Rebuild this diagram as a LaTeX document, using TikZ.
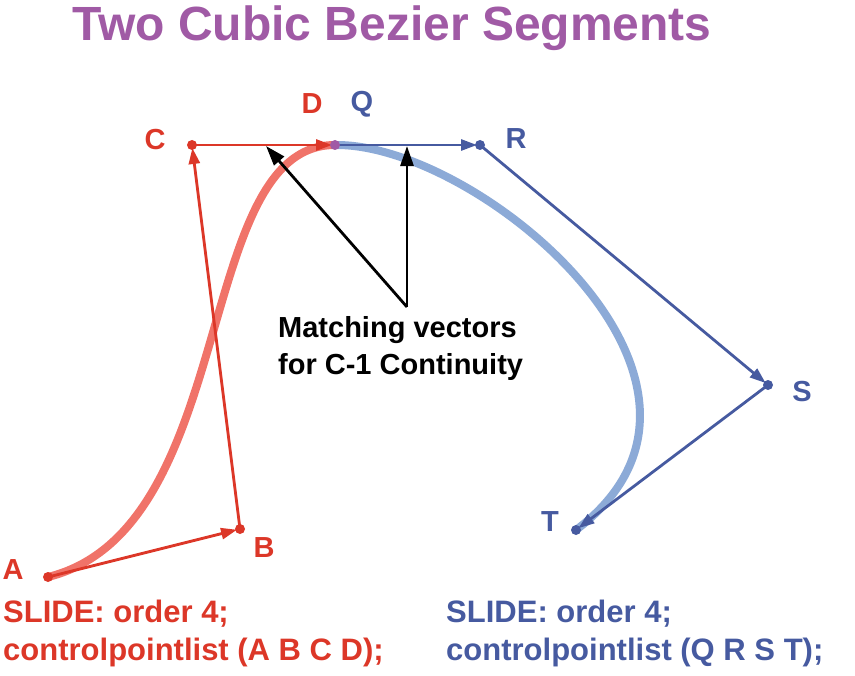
\documentclass[tikz,border=0pt]{standalone}
\usepackage{fontspec}
\setmainfont{Liberation Sans}
\usetikzlibrary{arrows.meta}
\definecolor{rd}{RGB}{220,55,40}
\definecolor{lrd}{RGB}{240,115,105}
\definecolor{bl}{RGB}{70,90,160}
\definecolor{lbl}{RGB}{140,170,215}
\definecolor{pu}{RGB}{160,90,165}
\tikzset{
 pt/.style={circle,fill=#1,inner sep=0pt,minimum size=10bp},
 vec/.style={draw=#1,line width=2.8bp,-{Triangle[length=16bp,width=11bp]},shorten >=3bp},
 lab/.style={font=\bfseries\fontsize{29bp}{37bp}\selectfont,text=#1},
 bot/.style={font=\bfseries\fontsize{31bp}{38bp}\selectfont,text=#1,align=left,anchor=north west,inner sep=0pt},
}
\begin{document}
\begin{tikzpicture}[x=1bp,y=-1bp]
\useasboundingbox (0,0) rectangle (855,676);
\node[font=\bfseries\fontsize{48bp}{52bp}\selectfont,text=pu] (title) at (392,28) {Two Cubic Bezier Segments};
\coordinate (A) at (48,577); \coordinate (B) at (240,529);
\coordinate (C) at (192,145); \coordinate (D) at (335,145);
\coordinate (Q) at (337,145); \coordinate (R) at (480,145);
\coordinate (S) at (768,385); \coordinate (T) at (576,530);
\draw[lrd,line width=8bp] (A) .. controls (B) and (C) .. (D);
\draw[lbl,line width=8bp] (Q) .. controls (R) and (S) .. (T);
\draw[vec=rd] (A) -- (B); \draw[vec=rd] (B) -- (C); \draw[vec=rd] (C) -- (D);
\draw[vec=bl] (Q) -- (R); \draw[vec=bl] (R) -- (S); \draw[vec=bl] (S) -- (T);
\foreach \p in {A,B,C}{\node[pt=rd] (p\p) at (\p) {};}
\node[pt=pu] (pD) at (D) {};
\foreach \p in {R,S,T}{\node[pt=bl] (p\p) at (\p) {};}
\node[lab=rd] (lA) at (13,570) {A};
\node[lab=rd] (lB) at (264,548) {B};
\node[lab=rd] (lC) at (155,140) {C};
\node[lab=rd] (lD) at (312,104) {D};
\node[lab=bl] (lQ) at (362,104) {Q};
\node[lab=bl] (lR) at (516,139) {R};
\node[lab=bl] (lS) at (802,392) {S};
\node[lab=bl] (lT) at (550,522) {T};
\node[lab=black,align=left,anchor=north west,inner sep=0pt] (note) at (278,316) {Matching vectors\\for C-1 Continuity};
\coordinate (v) at (407,307);
\draw[black,line width=2.8bp,-{Triangle[length=20bp,width=13bp]}] (v) -- (266,146);
\draw[black,line width=2.8bp,-{Triangle[length=20bp,width=13bp]}] (v) -- (407,146);
\node[bot=rd] (s1) at (3,600) {SLIDE: order 4;\\controlpointlist (A B C D);};
\node[bot=bl] (s2) at (446,600) {SLIDE: order 4;\\controlpointlist (Q R S T);};
\end{tikzpicture}
\end{document}
